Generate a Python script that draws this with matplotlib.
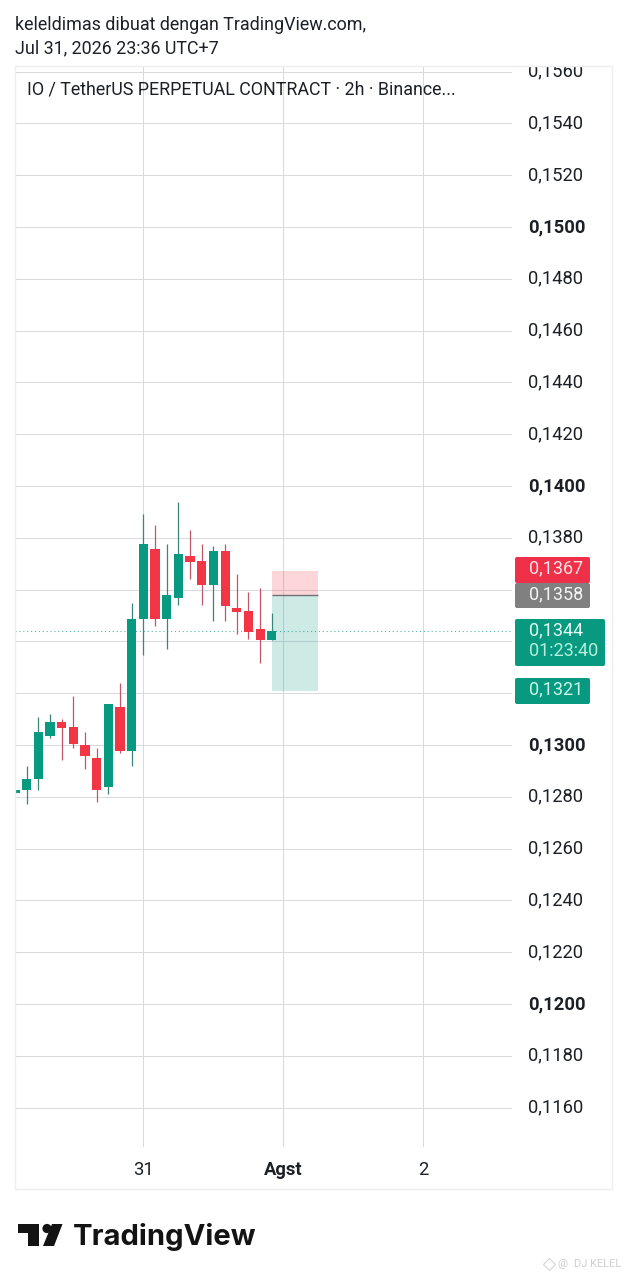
#!/usr/bin/env python3
"""Recreate the IO/USDT 2h TradingView snapshot."""

import matplotlib
matplotlib.use("Agg")
import matplotlib.pyplot as plt
from matplotlib.patches import Circle, FancyBboxPatch, Polygon, Rectangle
from matplotlib.transforms import ScaledTranslation
import numpy as np

plt.rcParams['font.family'] = ['Roboto', 'DejaVu Sans']

# Candles
opens = [0.12816, 0.12825, 0.12868, 0.13036, 0.13088, 0.13068, 0.13000, 0.12949,
         0.12839, 0.13148, 0.12977, 0.13488, 0.13758, 0.13488, 0.13568, 0.13730,
         0.13710, 0.13619, 0.13748, 0.13530, 0.13516, 0.13449, 0.13407]
highs = [0.12826, 0.12919, 0.13109, 0.13120, 0.13099, 0.13189, 0.13052, 0.12987,
         0.13158, 0.13238, 0.13550, 0.13892, 0.13848, 0.13776, 0.13938, 0.13830,
         0.13776, 0.13768, 0.13776, 0.13659, 0.13590, 0.13608, 0.13508]
lows = [0.12816, 0.12772, 0.12826, 0.13028, 0.12942, 0.12990, 0.12909, 0.12781,
        0.12810, 0.12970, 0.12919, 0.13348, 0.13461, 0.13371, 0.13541, 0.13641,
        0.13541, 0.13479, 0.13479, 0.13429, 0.13409, 0.13318, 0.13407]
closes = [0.12826, 0.12869, 0.13049, 0.13088, 0.13067, 0.13005, 0.12958, 0.12825,
          0.13158, 0.12977, 0.13488, 0.13776, 0.13488, 0.13578, 0.13737, 0.13708,
          0.13619, 0.13748, 0.13538, 0.13515, 0.13435, 0.13407, 0.13440]

# Price axis
price_ticks = [0.1160, 0.1180, 0.1200, 0.1220, 0.1240, 0.1260, 0.1280, 0.1300, 0.1320,
               0.1340, 0.1360, 0.1380, 0.1400, 0.1420, 0.1440, 0.1460, 0.1480, 0.1500,
               0.1520, 0.1540, 0.1560]
bold_prices = [0.1200, 0.1300, 0.1400, 0.1500]
# these sit behind the price tags in the original, so only the grid line shows
hidden_prices = [0.1320, 0.1340, 0.1360]

# Time axis, in candle numbers
time_ticks = [11, 23, 35]
time_labels = ['31', 'Agst', '2']

# Long position tool
position_start = 22
position_end = 26
entry_price = 0.1358
stop_price = 0.1367
target_price = 0.1321
last_price = 0.1344

GREEN = '#089981'
RED = '#f23645'
GRID = '#d9dade'
TEXT = '#1c2026'

W, H = 628, 1280
PLOT_LEFT, PLOT_RIGHT, PLOT_TOP, PLOT_BOTTOM = 15, 512, 66, 1147
PX_PER_CANDLE = 11.67
PX_PER_PRICE = 25900.0


def is_in(p, values):
    return any(abs(p - v) < 1e-9 for v in values)


fig = plt.figure(figsize=(W / 100, H / 100), dpi=100, facecolor='white')
ax = fig.add_axes([PLOT_LEFT / W, 1 - PLOT_BOTTOM / H,
                   (PLOT_RIGHT - PLOT_LEFT) / W, (PLOT_BOTTOM - PLOT_TOP) / H])

ax.set_xlim(0, (PLOT_RIGHT - PLOT_LEFT) / PX_PER_CANDLE)
ax.set_ylim(0.14 - (PLOT_BOTTOM - 486) / PX_PER_PRICE,
            0.14 + (486 - PLOT_TOP) / PX_PER_PRICE)

for side in ax.spines.values():
    side.set_visible(False)

ax.set_axisbelow(True)
ax.grid(True, color=GRID, linewidth=0.75)

# Ticks
ax.yaxis.tick_right()
ax.set_yticks(price_ticks)
ax.set_yticklabels(['' if is_in(p, hidden_prices) else f'{p:.4f}'.replace('.', ',')
                    for p in price_ticks])
ax.tick_params(axis='y', length=0, pad=11.5, labelsize=13.2, labelcolor=TEXT)
# labels sit about 2px above their grid lines in the original
nudge_up = ScaledTranslation(0, 2 / 100, fig.dpi_scale_trans)
for label, p in zip(ax.get_yticklabels(), price_ticks):
    label.set_verticalalignment('center_baseline')
    label.set_transform(label.get_transform() + nudge_up)
    if is_in(p, bold_prices):
        label.set_fontweight('bold')

ax.set_xticks(time_ticks)
ax.set_xticklabels(time_labels)
ax.tick_params(axis='x', length=0, pad=10, labelsize=13.2, labelcolor=TEXT)
ax.get_xticklabels()[1].set_fontweight('bold')

# Position tool
ax.fill_between([position_start, position_end], entry_price, stop_price,
                color=RED, alpha=0.2, linewidth=0, zorder=1.5)
ax.fill_between([position_start, position_end], target_price, entry_price,
                color=GREEN, alpha=0.2, linewidth=0, zorder=1.5)
ax.hlines(entry_price, position_start, position_end, color='#6f7278', linewidth=1, zorder=1.6)

# Last price
ax.axhline(last_price, color=GREEN, linestyle=(0, (1, 2.5)), linewidth=0.8, alpha=0.7, zorder=1.7)

# Candles
x = np.arange(len(opens))
o = np.array(opens)
c = np.array(closes)
colors = [GREEN if b >= a else RED for a, b in zip(opens, closes)]
wick_colors = ['#3c8379' if b >= a else '#c0566a' for a, b in zip(opens, closes)]
ax.vlines(x, lows, highs, colors=wick_colors, linewidth=0.9, zorder=2)
ax.bar(x, np.abs(c - o), bottom=np.minimum(o, c), width=0.78, color=colors, linewidth=0, zorder=3)

# Everything outside the plot goes on an overlay in pixels
over = fig.add_axes([0, 0, 1, 1], facecolor='none')
over.set_xlim(0, W)
over.set_ylim(H, 0)
over.axis('off')

over.add_patch(Rectangle((513, 50), 99, 16, facecolor='white', edgecolor='none', zorder=1))
over.add_patch(Rectangle((15, 66), 597, 1123, facecolor='none', edgecolor='#eeeeef', linewidth=1, zorder=1))

over.text(15, 24.5, 'keleldimas dibuat dengan TradingView.com,', fontsize=12.85, color=TEXT, va='center')
over.text(15, 48.5, 'Jul 31, 2026 23:36 UTC+7', fontsize=12.85, color=TEXT, va='center')
over.text(27, 89.5, 'IO / TetherUS PERPETUAL CONTRACT \u00b7 2h \u00b7 Binance...', fontsize=12.87,
          color=TEXT, va='center')


def price_tag(y0, y1, x1, color, lines):
    over.add_patch(FancyBboxPatch((515, y0), x1 - 515, y1 - y0, boxstyle='round,pad=0,rounding_size=2',
                                  facecolor=color, edgecolor='none', zorder=2))
    for text_y, text, text_color in lines:
        over.text(529, text_y, text, fontsize=13, color=text_color, va='center', zorder=3)


price_tag(557, 583, 590, '#ee3049', [(568.5, '0,1367', '#ffe3e4')])
price_tag(583, 608, 590, '#808080', [(594.5, '0,1358', '#f4f4f4')])
price_tag(619, 666, 605, GREEN, [(630, '0,1344', '#e4fbf4'), (651, '01:23:40', '#b5efdd')])
price_tag(678, 704, 590, GREEN, [(689.5, '0,1321', '#c9f8ea')])

# TradingView logo
over.add_patch(Polygon([(18, 1224), (39, 1224), (39, 1246), (28, 1246), (28, 1233), (18, 1233)],
                       facecolor='#131313', edgecolor='none'))
over.add_patch(Circle((47, 1228.5), 4.6, facecolor='#131313', edgecolor='none'))
over.add_patch(Polygon([(52, 1224), (62.5, 1224), (54, 1246), (43, 1246)],
                       facecolor='#131313', edgecolor='none'))
over.text(73, 1237, 'TradingView', fontsize=21, fontweight='bold', color='#131313',
          va='center', family=['Inter', 'Roboto'])

# Watermark
over.plot([549], [1264], marker='D', markersize=6, markerfacecolor='none',
          markeredgecolor='#d5d5d5', markeredgewidth=0.8)
over.text(562, 1264, '@', fontsize=8, color='#cfcfcf', ha='center', va='center')
over.text(574, 1264, 'DJ KELEL', fontsize=8, color='#cfcfcf', va='center')

fig.savefig('out.png', dpi=100)
